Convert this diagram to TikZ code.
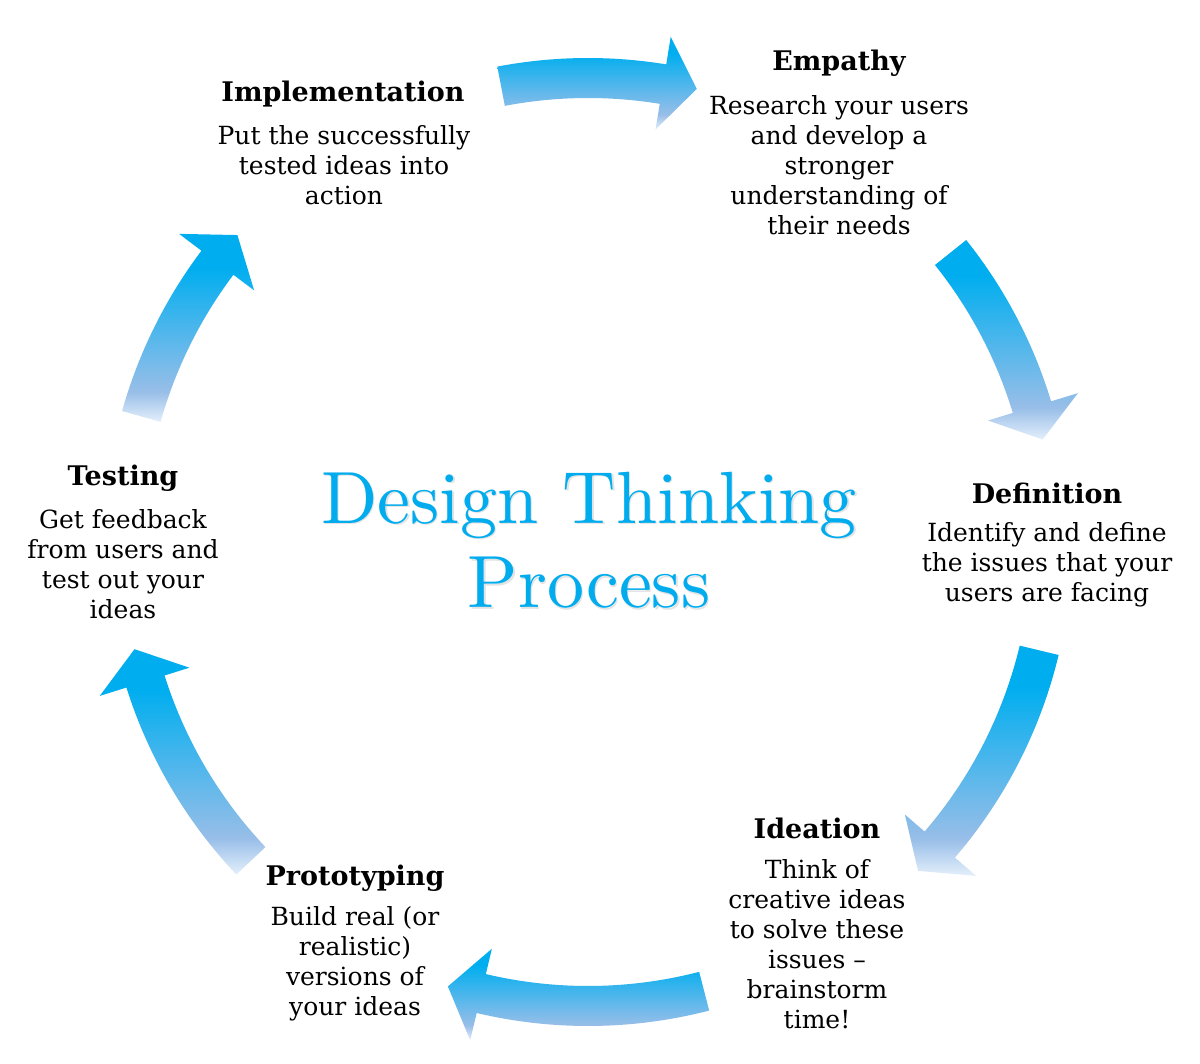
\documentclass[tikz,border=0pt]{standalone}
\usepackage{fontspec}
\setmainfont{DejaVu Serif}
\newfontfamily\titlefont{lmroman10-regular.otf}
\usetikzlibrary{calc}
\definecolor{dtC}{RGB}{0,174,239}
\definecolor{dtM}{RGB}{75,182,236}
\definecolor{dtV}{RGB}{152,190,232}
\definecolor{dtL}{RGB}{228,239,251}
\definecolor{titleblue}{RGB}{0,172,238}
\pgfdeclareverticalshading{dtshade}{100bp}{color(0bp)=(dtL); color(25bp)=(dtL); color(33bp)=(dtV); color(50bp)=(dtM); color(66bp)=(dtC); color(100bp)=(dtC)}
\tikzset{
  dthead/.style={font=\fontsize{27}{30}\selectfont\bfseries, inner sep=0pt},
  dtbody/.style={font=\fontsize{25}{30}\selectfont, align=center, inner sep=0pt},
  dttitle/.style={font=\titlefont\fontsize{74}{87}\selectfont, text=titleblue, inner sep=0pt, anchor=base},
  dtshadow/.style={font=\titlefont\fontsize{74}{87}\selectfont, text=black!11, inner sep=0pt, anchor=base},
  arrowfill/.style={shading=dtshade, draw=none},
}
% #1 tail angle, #2 tip angle (y axis points down)
\newcommand\dtarrow[2]{%
  \pgfmathsetmacro\dtbase{#2-4.2}%
  \path[arrowfill] (#1:484) arc[start angle=#1, end angle=\dtbase, radius=484]
    -- (\dtbase:512) -- (#2:466) -- (\dtbase:418) -- (\dtbase:444)
    arc[start angle=\dtbase, end angle=#1, radius=444] -- cycle;}
\begin{document}
\begin{tikzpicture}[x=1pt, y=-1pt]
\useasboundingbox (0,0) rectangle (1200,1064);
\fill[white] (0,0) rectangle (1200,1064);
\coordinate (C) at (588,542);
\begin{scope}[shift={(C)}]
  \dtarrow{-100.8}{-76.5}
  \dtarrow{-38.6}{-12.7}
  \dtarrow{13.5}{44.9}
  \dtarrow{75.5}{107.5}
  \dtarrow{136.6}{166.7}
  \dtarrow{-164.3}{-138.8}
\end{scope}
% title
\node[dtshadow] (t1s) at (590.5,525) {Design Thinking};
\node[dtshadow] (t2s) at (590.5,609) {Process};
\node[dttitle] (t1) at (589,523) {Design Thinking};
\node[dttitle] (t2) at (589,607) {Process};
% stages
\node[dthead] (implH) at (343,94) {Implementation};
\node[dtbody] (implB) at (344,165) {Put the successfully\\tested ideas into\\action};
\node[dthead] (empH) at (839,63) {Empathy};
\node[dtbody] (empB) at (839,165) {Research your users\\and develop a\\stronger\\understanding of\\their needs};
\node[dthead] (defH) at (1047,493) {Definition};
\node[dtbody] (defB) at (1047,565) {Identify and define\\the issues that your\\users are facing};
\node[dthead] (ideH) at (817,828) {Ideation};
\node[dtbody] (ideB) at (817,944) {Think of\\creative ideas\\to solve these\\issues –\\brainstorm\\time!};
\node[dthead] (proH) at (355,878) {Prototyping};
\node[dtbody] (proB) at (355,964) {Build real (or\\realistic)\\versions of\\your ideas};
\node[dthead] (tesH) at (123,478) {Testing};
\node[dtbody] (tesB) at (123,564) {Get feedback\\from users and\\test out your\\ideas};
\end{tikzpicture}
\end{document}
